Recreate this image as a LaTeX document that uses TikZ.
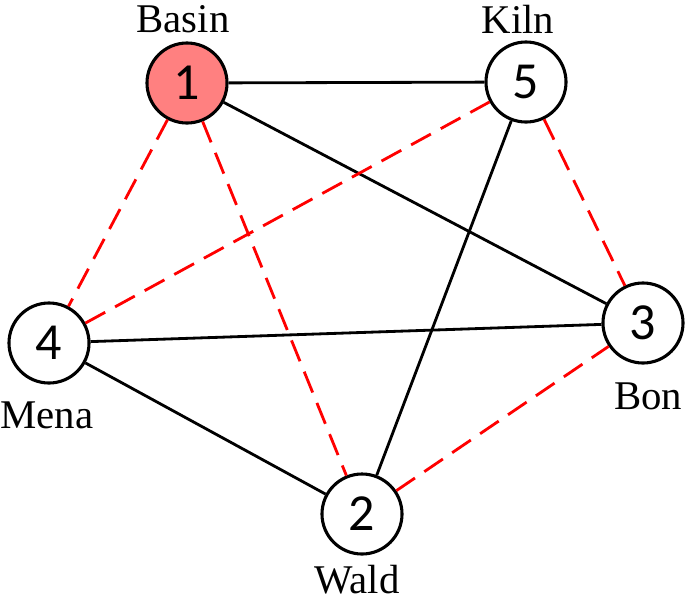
\documentclass[tikz,border=0pt]{standalone}
\usepackage{fontspec}
\setmainfont{Liberation Serif}
\newfontfamily\numfont{Carlito}
\usetikzlibrary{positioning}
\tikzstyle{solidedge} = [line width=2pt,black]
\tikzstyle{redge} = [line width=2pt,red,dash pattern=on 16pt off 8pt]

\begin{document}
\begin{tikzpicture}
        [
            x=0.025cm, y=-0.025cm,
            vertex/.style={circle,draw=black,line width=2.2pt,fill=white,minimum size=2cm,inner sep=0pt,font=\numfont\fontsize{37}{37}\selectfont},
            lbl/.style={font=\fontsize{29}{29}\selectfont,inner sep=0pt},
        ]
    \useasboundingbox (0,0) rectangle (685,601);

    % vertices
    \node[vertex,fill={rgb,255:red,255;green,128;blue,128}] (v1) at (187,83){1};
    \node[vertex] (v5) at (526,82){5};
    \node[vertex] (v3) at (643,323){3};
    \node[vertex] (v4) at (49,343){4};
    \node[vertex] (v2) at (362,514){2};

    % labels
    \node[lbl] (l1) at (183,19){Basin};
    \node[lbl] (l5) at (518,19){Kiln};
    \node[lbl] (l3) at (648,396){Bon};
    \node[lbl] (l4) at (47,415){Mena};
    \node[lbl] (l2) at (357,580){Wald};

    % edges
    \draw[solidedge] (v1) -- (v5);
    \draw[solidedge] (v1) -- (v3);
    \draw[solidedge] (v4) -- (v3);
    \draw[solidedge] (v4) -- (v2);
    \draw[solidedge] (v2) -- (v5);
    \draw[redge] (v1) -- (v4);
    \draw[redge] (v1) -- (v2);
    \draw[redge] (v4) -- (v5);
    \draw[redge] (v5) -- (v3);
    \draw[redge] (v2) -- (v3);
\end{tikzpicture}
\end{document}
